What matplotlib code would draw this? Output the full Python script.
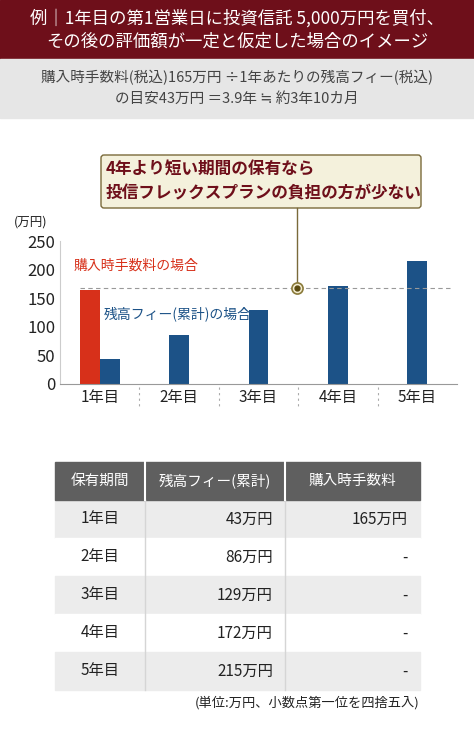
import matplotlib.pyplot as plt
from matplotlib.patches import Rectangle, FancyBboxPatch

plt.rcParams['font.family'] = ['Noto Sans CJK JP', 'DejaVu Sans']

years = ['1年目', '2年目', '3年目', '4年目', '5年目']
fee_cum = [43, 86, 129, 172, 215]
upfront = 165
yticks = [0, 50, 100, 150, 200, 250]
table_header = ['保有期間', '残高フィー(累計)', '購入時手数料']
table_fee = ['43万円', '86万円', '129万円', '172万円', '215万円']
table_upfront = ['165万円', '-', '-', '-', '-']

W, H = 474, 750
RED = '#d7301a'
BLUE = '#1c5287'
fig = plt.figure(figsize=(W / 100, H / 100), dpi=100)

# overlay in pixel coordinates
ov = fig.add_axes([0, 0, 1, 1])
ov.set_xlim(0, W)
ov.set_ylim(H, 0)
ov.axis('off')

ov.add_patch(Rectangle((0, 0), W, 59, color='#6e0f1a'))
ov.text(W / 2, 18, '例｜1年目の第1営業日に投資信託 5,000万円を買付、', color='white',
        fontsize=12.5, ha='center', va='center')
ov.text(W / 2, 42, 'その後の評価額が一定と仮定した場合のイメージ', color='white',
        fontsize=12.5, ha='center', va='center')
ov.add_patch(Rectangle((0, 59), W, 59, color='#e6e6e6'))
ov.text(W / 2, 78, '購入時手数料(税込)165万円 ÷1年あたりの残高フィー(税込)', color='#444444',
        fontsize=10.5, ha='center', va='center')
ov.text(W / 2, 99, 'の目安43万円 ＝3.9年 ≒ 約3年10カ月', color='#444444',
        fontsize=10.5, ha='center', va='center')

# chart
x0, x1, ytop, ybot = 60, 457, 241, 384
ax = fig.add_axes([x0 / W, 1 - ybot / H, (x1 - x0) / W, (ybot - ytop) / H])
ax.set_zorder(2)
ax.patch.set_alpha(0)
pos = list(range(len(years)))
ax.bar([p - 0.125 for p in pos[:1]], [upfront], width=0.25, color=RED)
ax.bar([pos[0] + 0.125] + pos[1:], fee_cum, width=0.25, color=BLUE)
ax.axhline(upfront + 3, xmin=0.05, xmax=0.99, color='#999999', ls=(0, (4, 3)), lw=0.8)
ax.set_xlim(-0.5, 4.5)
ax.set_ylim(0, 250)
ax.set_yticks(yticks)
ax.set_xticks(pos)
ax.set_xticklabels(years)
ax.tick_params(axis='both', length=0, labelsize=12, colors='#222222')
ax.tick_params(axis='x', labelsize=11)
for s in ['top', 'right']:
    ax.spines[s].set_visible(False)
ax.spines['left'].set_color('#cccccc')
ax.spines['bottom'].set_color('#999999')
for p in pos[:-1]:
    ax.plot([p + 0.5, p + 0.5], [-5, -40], ls=(0, (2, 3)), color='#aaaaaa', lw=0.8, clip_on=False)
ax.text(-0.33, 207, '購入時手数料の場合', color=RED, fontsize=10, va='center')
ax.text(0.05, 123, '残高フィー(累計)の場合', color=BLUE, fontsize=10, va='center')
ax.plot([2.49], [upfront + 3], 'o', ms=8, mfc='#f4eccf', mec='#8a7a3a', mew=1.2)
ax.plot([2.49], [upfront + 3], 'o', ms=3.5, color='#5a4a10')

ov.text(14, 222, '(万円)', fontsize=9, va='center', color='#222222')
ov.add_patch(FancyBboxPatch((101, 155), 320, 53, boxstyle='round,pad=0,rounding_size=3',
                            fc='#f4f1dc', ec='#7a6a3a', lw=1))
ov.plot([297, 297], [208, 284], color='#7a6a3a', lw=1)
ov.text(106, 170, '4年より短い期間の保有なら', color='#6e0f1a', fontsize=12,
        fontweight='bold', va='center')
ov.text(106, 193, '投信フレックスプランの負担の方が少ない', color='#6e0f1a', fontsize=12,
        fontweight='bold', va='center')

# table
cols = [55, 145, 285, 420]
ty, hh, rh = 462, 38, 38
ov.add_patch(Rectangle((cols[0], ty), cols[-1] - cols[0], hh, color='#5f5f5f'))
for i, t in enumerate(table_header):
    ov.text((cols[i] + cols[i + 1]) / 2, ty + hh / 2, t, color='white', fontsize=10.5,
            ha='center', va='center')
for r in range(5):
    y = ty + hh + r * rh
    ov.add_patch(Rectangle((cols[0], y), cols[-1] - cols[0], rh,
                           color='#ececec' if r % 2 == 0 else 'white', zorder=0))
    ov.text((cols[0] + cols[1]) / 2, y + rh / 2, years[r], fontsize=11, ha='center', va='center',
            color='#222222')
    ov.text(cols[2] - 12, y + rh / 2, table_fee[r], fontsize=11, ha='right', va='center', color='#222222')
    ov.text(cols[3] - 12, y + rh / 2, table_upfront[r], fontsize=11, ha='right', va='center', color='#222222')
for c in cols[1:-1]:
    ov.plot([c, c], [ty, ty + hh], color='white', lw=1.5)
    ov.plot([c, c], [ty + hh, ty + hh + rh * 5], color='#d5d5d5', lw=1, zorder=1)
ov.text(420, 703, '(単位:万円、小数点第一位を四捨五入)', fontsize=9.5, ha='right', va='center',
        color='#222222')

fig.savefig('out.png', dpi=100)
